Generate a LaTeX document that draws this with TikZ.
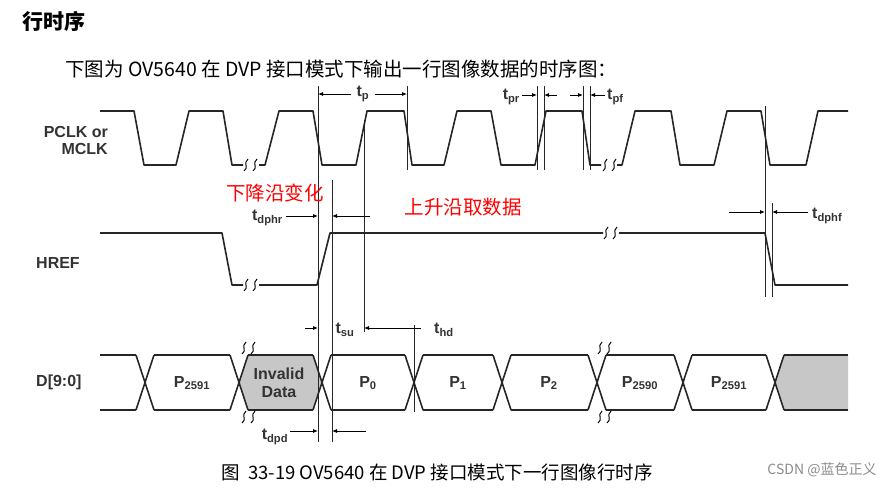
\documentclass[tikz,border=0pt]{standalone}
\usepackage{fontspec}
\setmainfont{Liberation Sans}
\newfontfamily\cjk{Noto Sans CJK SC}
\begin{document}
\begin{tikzpicture}[x=1pt,y=-1pt,
  wave/.style={line width=1.6pt,line join=round,black!85},
  gl/.style={line width=1pt,black!85},
  dim/.style={line width=0.8pt,-{Latex[length=5pt,width=4pt]}},
  lbl/.style={font=\bfseries\fontsize{16}{17}\selectfont,inner sep=0,black!80},
  sq/.style={line width=1pt}]
\usetikzlibrary{arrows.meta}
\useasboundingbox (0,0) rectangle (891,489);
\fill[white] (0,0) rectangle (891,489);
\newcommand{\squig}[2]{\draw[sq] (#1-6,#2+6) .. controls (#1-1,#2+3) and (#1-7,#2-2) .. (#1-2,#2-6);
  \draw[sq] (#1+3,#2+6) .. controls (#1+8,#2+3) and (#1+2,#2-2) .. (#1+7,#2-6);}
% header
\node[anchor=west,font=\cjk\bfseries\fontsize{21}{22}\selectfont,inner sep=0] (title) at (22,21) {行时序};
\node[anchor=west,font=\cjk\fontsize{19.5}{21}\selectfont,inner sep=0] (intro) at (65,69) {下图为 OV5640 在 DVP 接口模式下输出一行图像数据的时序图：};
% labels
\node[lbl,align=right,anchor=east] (pclk) at (108,140) {PCLK or\\MCLK};
\node[lbl,anchor=west] (href) at (36,263) {HREF};
\node[lbl,anchor=west] (dbus) at (36,382) {D[9:0]};
% clock
\draw[wave] (100,111)--(134,111)--(144,165)--(176,165)--(189,111)--(223,111)--(232,165)--(243,165);
\draw[wave] (259,165)--(265,165)--(279,111)--(313,111)--(322,165)--(356,165)--(367,111)--(404,111)--(412,165)--(444,165)--(457,111)--(491,111)--(501,165)--(535,165)--(546,111)--(582,111)--(590,165)--(601,165);
\draw[wave] (617,165)--(622,165)--(635,111)--(671,111)--(680,165)--(714,165)--(727,111)--(761,111)--(770,165)--(806,165)--(818,111)--(848,111);
\squig{250}{165}\squig{609}{165}
% href
\draw[wave] (100,233)--(222,233)--(232,285)--(243,285);
\draw[wave] (259,285)--(317,285)--(330,233)--(603,233);
\draw[wave] (619,233)--(765,233)--(775,285)--(848,285);
\squig{250}{285}\squig{610}{233}
% data bus
\fill[black!22] (239,382.5)--(248,355)--(313,355)--(322,382.5)--(313,410)--(248,410)--cycle;
\fill[black!22] (775,382.5)--(784,355)--(848,355)--(848,410)--(784,410)--cycle;
\foreach \c in {145,239,322,414,502,597,683,775}{
  \draw[wave] (\c-9,355)--(\c+9,410); \draw[wave] (\c-9,410)--(\c+9,355);}
\foreach \a/\b in {100/136,154/230,248/313,331/405,423/493,511/588,606/674,692/766,784/848}{
  \draw[wave] (\a,355)--(\b,355); \draw[wave] (\a,410)--(\b,410);}
\squig{248}{348}\squig{248}{417}\squig{604}{348}\squig{604}{417}
\node[lbl] (p2591a) at (192,383) {P\textsubscript{2591}};
\node[lbl,align=center] (inv) at (279,383) {Invalid\\[1pt]Data};
\node[lbl] (p0) at (368,383) {P\textsubscript{0}};
\node[lbl] (p1) at (458,383) {P\textsubscript{1}};
\node[lbl] (p2) at (549,383) {P\textsubscript{2}};
\node[lbl] (p2590) at (640,383) {P\textsubscript{2590}};
\node[lbl] (p2591b) at (729,383) {P\textsubscript{2591}};
% vertical guide lines
\draw[gl] (318,86)--(318,442);
\draw[gl] (332,180)--(332,442);
\draw[gl] (364,120)--(364,332);
\draw[gl] (407,86)--(407,170);
\draw[gl] (537,86)--(537,170); \draw[gl] (544,86)--(544,170);
\draw[gl] (583,86)--(583,170); \draw[gl] (590,86)--(590,170);
\draw[gl] (765,106)--(765,297); \draw[gl] (772,203)--(772,297);
\draw[gl] (414,325)--(414,412);
% dimension arrows
\node[lbl] (tp) at (363,94) {t\textsubscript{p}};
\draw[dim] (tp.west)++(-5,0) -- (318,94);
\draw[dim] (tp.east)++(5,0) -- (407,94);
\draw[dim] (522,95)--(537,95); \node[lbl,anchor=east] (tpr) at (520,97) {t\textsubscript{pr}};
\draw[dim] (557,95)--(544,95); \draw[dim] (570,95)--(583,95);
\draw[dim] (605,95)--(590,95); \node[lbl,anchor=west] (tpf) at (607,97) {t\textsubscript{pf}};
\node[lbl,anchor=east] (tdphr) at (283,218) {t\textsubscript{dphr}};
\draw[dim] (286,216)--(318,216); \draw[dim] (370,216)--(332,216);
\draw[dim] (729,212)--(765,212); \draw[dim] (808,212)--(772,212);
\node[lbl,anchor=west] (tdphf) at (812,216) {t\textsubscript{dphf}};
\draw[dim] (305,328)--(318,328);
\node[lbl] (tsu) at (345,330) {t\textsubscript{su}};
\draw[dim] (421,328)--(364,328);
\node[lbl,anchor=west] (thd) at (434,330) {t\textsubscript{hd}};
\node[lbl] (tdpd) at (275,437) {t\textsubscript{dpd}};
\draw[dim] (290,431)--(318,431); \draw[dim] (366,431)--(332,431);
% red notes
\node[font=\cjk\fontsize{19.5}{21}\selectfont,text=red,inner sep=0] (fall) at (275,193) {下降沿变化};
\node[font=\cjk\fontsize{19.5}{21}\selectfont,text=red,inner sep=0] (rise) at (463,207) {上升沿取数据};
% caption
\node[font=\cjk\fontsize{18.5}{20}\selectfont,inner sep=0] (cap) at (437,472) {图\ \ 33-19 OV5640 在 DVP 接口模式下一行图像行时序};
\node[font=\cjk\fontsize{14}{15}\selectfont,text=black!45,inner sep=0] (csdn) at (822,470) {CSDN @蓝色正义};
\end{tikzpicture}
\end{document}
